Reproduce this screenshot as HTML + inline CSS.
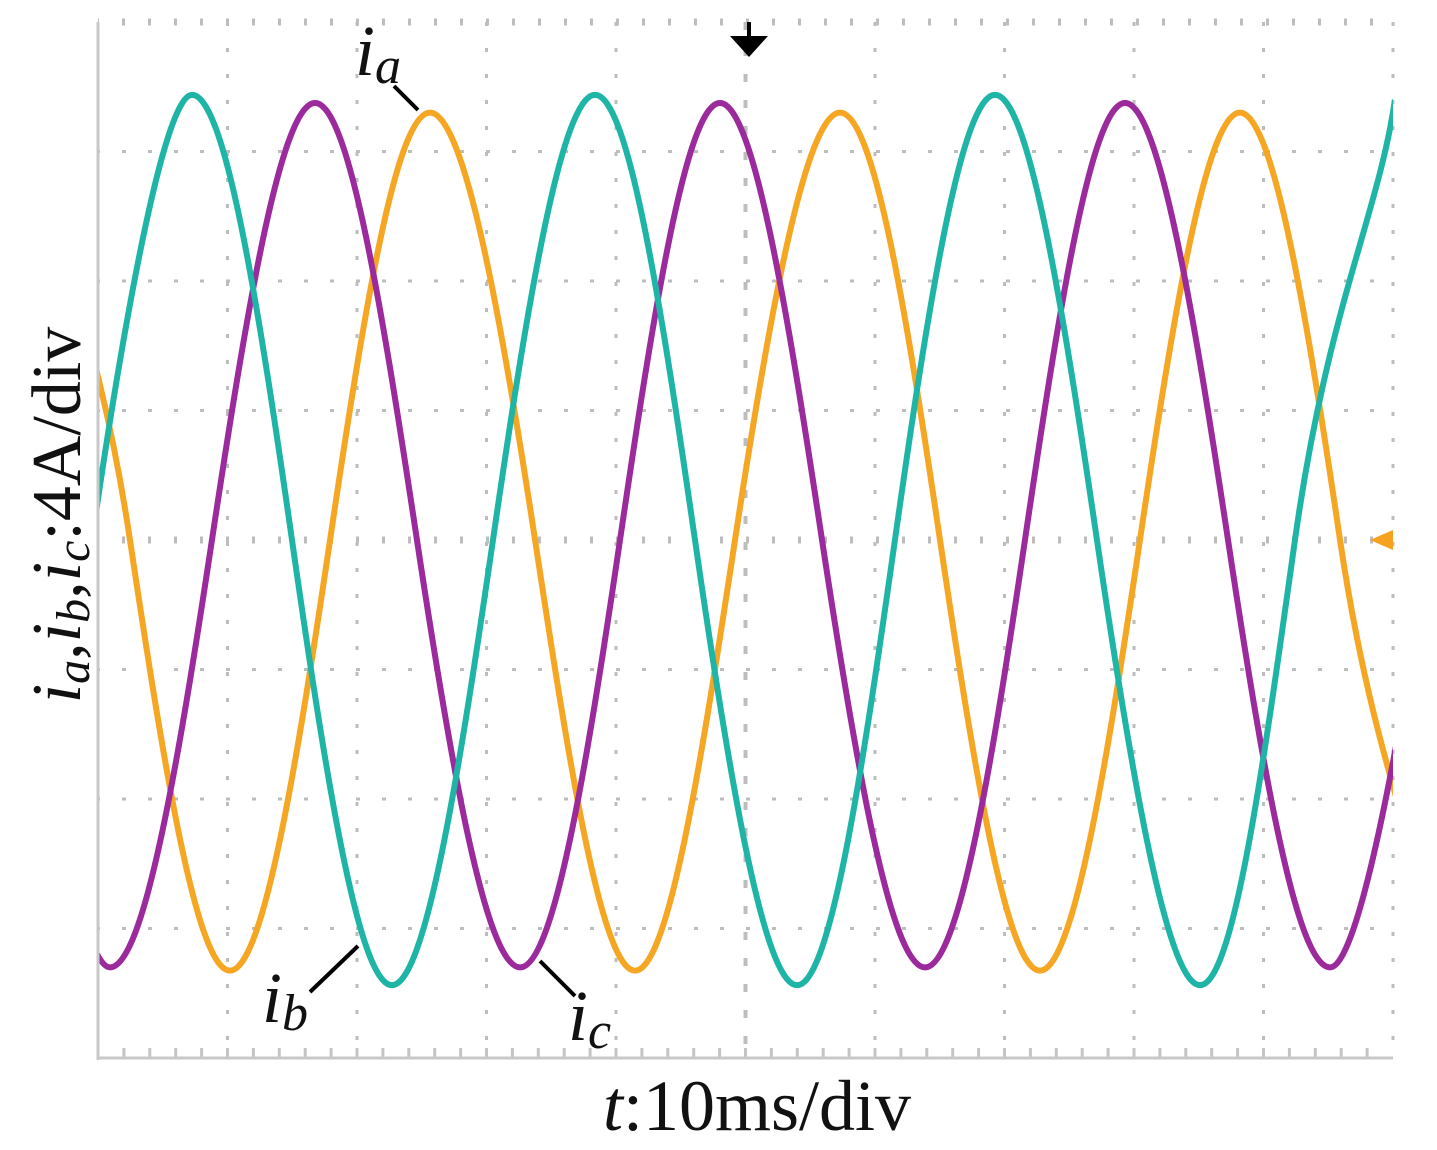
<!DOCTYPE html>
<html><head><meta charset="utf-8">
<style>
html,body{margin:0;padding:0;background:#fff;}
svg{display:block;}
text{font-family:"Liberation Serif",serif;fill:#111;}
</style></head>
<body>
<svg id="chart" width="1437" height="1150" viewBox="0 0 1437 1150" xmlns="http://www.w3.org/2000/svg">
<g id="grid"></g>
<g id="series"></g>
<g id="frame">
  <line x1="98" y1="22" x2="98" y2="1060" stroke="#c8c8c8" stroke-width="3"/>
  <line x1="98" y1="1058" x2="1393" y2="1058" stroke="#c8c8c8" stroke-width="3"/>
</g>
<path d="M747 22 L751 22 L751 36 L768 36 L749 57 L730 36 L747 36 Z" fill="#000"/>
<path d="M1393 530 L1393 550 L1370 540 Z" fill="#f5a21f"/>
<g>
  <text x="355" y="75" font-size="72" font-style="italic">i<tspan font-size="52" dy="8">a</tspan></text>
  <line x1="394" y1="86" x2="418" y2="110" stroke="#000" stroke-width="4"/>
</g>
<g>
  <text x="262" y="1022" font-size="72" font-style="italic">i<tspan font-size="52" dy="8">b</tspan></text>
  <line x1="310" y1="992" x2="358" y2="946" stroke="#000" stroke-width="4"/>
</g>
<g>
  <text x="568" y="1040" font-size="72" font-style="italic">i<tspan font-size="52" dy="8">c</tspan></text>
  <line x1="575" y1="996" x2="540" y2="961" stroke="#000" stroke-width="4"/>
</g>
<text transform="translate(80,515) rotate(-90)" text-anchor="middle" font-size="70"><tspan font-style="italic">i</tspan><tspan font-style="italic" font-size="48" dy="9">a</tspan><tspan dy="-9">,</tspan><tspan font-style="italic">i</tspan><tspan font-style="italic" font-size="48" dy="9">b</tspan><tspan dy="-9">,</tspan><tspan font-style="italic">i</tspan><tspan font-style="italic" font-size="48" dy="9">c</tspan><tspan dy="-9">:4A/div</tspan></text>
<text x="757" y="1130" text-anchor="middle" font-size="72"><tspan font-style="italic">t</tspan>:10ms/div</text>
</svg>
<script>
// Data (time in ms, current in A)
const ibTime = [-0.46, 7.26, 14.98, 22.70, 30.50, 38.38, 46.10, 53.98, 61.54, 69.27, 77.14, 85.10, 92.43, 100.15];
const ibVal  = [0, 13.75, 0, -13.75, 0, 13.75, 0, -13.75, 0, 13.75, 0, -13.75, 0, 13.6];
const icTime = [-6.8, 0.93, 8.80, 16.76, 24.63, 32.59, 40.31, 48.03, 55.91, 63.86, 71.58, 79.31, 87.26, 95.14, 102.86];
const icVal  = [0, -13.2, 0, 13.5, 0, -13.2, 0, 13.5, 0, -13.2, 0, 13.5, 0, -13.2, 0];
const iaTime = [-5.41, 2.47, 10.19, 17.92, 25.64, 33.75, 41.47, 49.19, 57.30, 65.02, 72.74, 80.46, 88.18, 95.91, 103.6];
const iaVal  = [13.2, 0, -13.3, 0, 13.2, 0, -13.3, 0, 13.2, 0, -13.3, 0, 13.2, 0, -13.3];

const NS = "http://www.w3.org/2000/svg";
const X0 = 98, X1 = 1393, Y0 = 22, Y1 = 1058;
const T_MAX = 100, A_PER_DIV = 4, DIVS_Y = 8;
const xScale = t => X0 + (t / T_MAX) * (X1 - X0);
const yScale = a => (Y0 + Y1) / 2 - (a / A_PER_DIV) * ((Y1 - Y0) / DIVS_Y);

// grid
const grid = document.getElementById('grid');
for (let i = 1; i <= 10; i++) {
  const x = X0 + i * (X1 - X0) / 10;
  const l = document.createElementNS(NS, 'line');
  
  
  l.setAttribute('x1', x); l.setAttribute('x2', x);
  l.setAttribute('y1', Y0); l.setAttribute('y2', Y1);
  l.setAttribute('stroke', '#bdbdbd'); l.setAttribute('stroke-width', i === 5 ? 4 : 3);
  l.setAttribute('stroke-dasharray', i === 5 ? '8 18' : '4 22');
  grid.appendChild(l);
}
for (let j = 0; j < 8; j++) {
  const y = Y0 + j * (Y1 - Y0) / 8;
  const l = document.createElementNS(NS, 'line');
  
  
  l.setAttribute('x1', X0); l.setAttribute('x2', X1);
  l.setAttribute('y1', y); l.setAttribute('y2', y);
  l.setAttribute('stroke', '#bdbdbd'); l.setAttribute('stroke-width', (j === 0 || j === 4) ? 7 : 3);
  l.setAttribute('stroke-dasharray', (j === 0 || j === 4) ? '3 23' : '4 22');
  l.setAttribute('stroke-dashoffset', '-24');
  grid.appendChild(l);
}
// bottom ticks
for (let k = 1; k < 50; k++) {
  const x = X0 + k * (X1 - X0) / 50;
  const l = document.createElementNS(NS, 'line');
  
  
  l.setAttribute('x1', x); l.setAttribute('x2', x);
  l.setAttribute('y1', Y1 - 10); l.setAttribute('y2', Y1);
  l.setAttribute('stroke', '#c4c4c4'); l.setAttribute('stroke-width', 3);
  grid.appendChild(l);
}

// Hermite curve through key points; y tangents boosted (pi/2) for sinusoid-like shape
function curve(ts, vs) {
  const p = ts.map((t, i) => [xScale(t), yScale(vs[i])]);
  const K = Math.PI / 2;
  let d = 'M' + p[0][0] + ' ' + p[0][1];
  for (let i = 0; i < p.length - 1; i++) {
    const a = p[i - 1] || p[i], b = p[i], c = p[i + 1], e = p[i + 2] || c;
    const c1 = [b[0] + (c[0] - a[0]) / 6, b[1] + K * (c[1] - a[1]) / 6];
    const c2 = [c[0] - (e[0] - b[0]) / 6, c[1] - K * (e[1] - b[1]) / 6];
    d += ` C${c1[0]} ${c1[1]} ${c2[0]} ${c2[1]} ${c[0]} ${c[1]}`;
  }
  return d;
}
const series = document.getElementById('series');
const defs = document.createElementNS(NS, 'defs');
defs.innerHTML = `<clipPath id="plotclip"><rect x="${X0}" y="${Y0}" width="${X1 - X0}" height="${Y1 - Y0}"/></clipPath>`;
series.appendChild(defs);
series.setAttribute('clip-path', 'url(#plotclip)');
[[iaTime, iaVal, '#f5a623', 'series-ia'], [icTime, icVal, '#9b2a9d', 'series-ic'], [ibTime, ibVal, '#1fb5a6', 'series-ib']].forEach(s => {
  const path = document.createElementNS(NS, 'path');
  
  
  path.setAttribute('d', curve(s[0], s[1]));
  path.setAttribute('fill', 'none');
  path.setAttribute('stroke', s[2]);
  path.setAttribute('stroke-width', 6);
  series.appendChild(path);
});
</script>
</body></html>
